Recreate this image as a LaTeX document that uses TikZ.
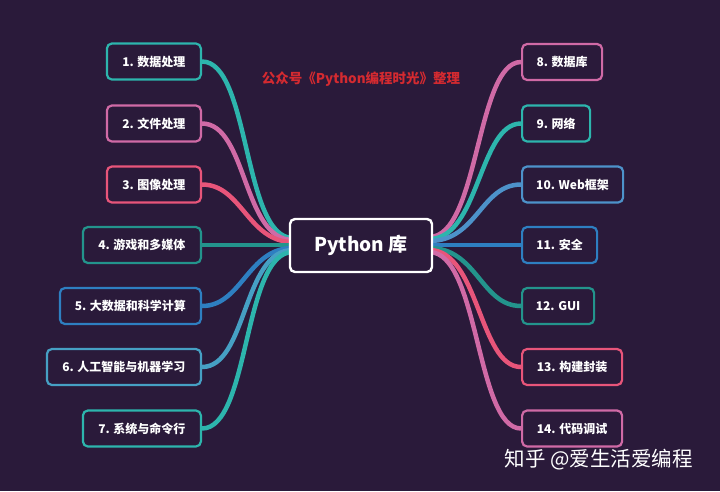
\documentclass[tikz,border=0pt]{standalone}
\usepackage{fontspec}
\setmainfont{Noto Sans CJK SC}
\usetikzlibrary{backgrounds,calc}
\definecolor{bg}{HTML}{2A1A3A}
\definecolor{cteal}{HTML}{2DB5AD}
\definecolor{cpink}{HTML}{D06AA6}
\definecolor{cred}{HTML}{E8557A}
\definecolor{cdteal}{HTML}{23948C}
\definecolor{cblue}{HTML}{2E7FC1}
\definecolor{clblue}{HTML}{46A0C4}
\definecolor{ctitle}{HTML}{D42A30}
\begin{document}
\begin{tikzpicture}[x=1pt,y=-1pt,
  box/.style={draw, line width=2.2pt, rounded corners=5pt, fill=bg, minimum height=36pt,
    inner sep=0pt, text=white, font=\bfseries\fontsize{12}{14}\selectfont},
  hub/.style={draw=white, line width=2.4pt, rounded corners=5pt, fill=bg, minimum width=142pt,
    minimum height=53pt, text=white, font=\bfseries\fontsize{19}{22}\selectfont},
  link/.style={line width=4.5pt, line cap=round}]
\useasboundingbox (0,0) rectangle (720,491);
% hub
\node[hub] (c) at (361,245.5) {Python 库};
% left boxes
\node[box, draw=cteal, minimum width=94pt, anchor=east] (n1) at (202,61.5) {1. 数据处理};
\node[box, draw=cpink, minimum width=94pt, anchor=east] (n2) at (202,123.5) {2. 文件处理};
\node[box, draw=cred, minimum width=94pt, anchor=east] (n3) at (202,184.5) {3. 图像处理};
\node[box, draw=cdteal, minimum width=118pt, anchor=east] (n4) at (202,245) {4. 游戏和多媒体};
\node[box, draw=cblue, minimum width=141pt, anchor=east] (n5) at (202,306) {5. 大数据和科学计算};
\node[box, draw=clblue, minimum width=154pt, anchor=east] (n6) at (202,367) {6. 人工智能与机器学习};
\node[box, draw=cteal, minimum width=118pt, anchor=east] (n7) at (202,428.5) {7. 系统与命令行};
% right boxes
\node[box, draw=cpink, minimum width=80pt, anchor=west] (n8) at (521,62) {8. 数据库};
\node[box, draw=cteal, minimum width=68pt, anchor=west] (n9) at (521,123.5) {9. 网络};
\node[box, draw=cblue!85!white, minimum width=101pt, anchor=west] (n10) at (521,184.5) {10. Web框架};
\node[box, draw=cblue, minimum width=75pt, anchor=west] (n11) at (521,245) {11. 安全};
\node[box, draw=cdteal, minimum width=72pt, anchor=west] (n12) at (521,306) {12. GUI};
\node[box, draw=cred, minimum width=100pt, anchor=west] (n13) at (521,367) {13. 构建封装};
\node[box, draw=cpink, minimum width=100pt, anchor=west] (n14) at (521,428.5) {14. 代码调试};
% texts
\node[text=ctitle, font=\bfseries\fontsize{13.5}{16}\selectfont] (title) at (361,79.5) {公众号《Python编程时光》整理};
\node[anchor=west, text=white, font=\fontsize{20.5}{24}\selectfont] (wm) at (501,460) {知乎 @爱生活爱编程};
% attach points on hub
\coordinate (L1) at ($(c.west)+(4,-7.5)$);
\coordinate (L2) at ($(c.west)+(4,-5.5)$);
\coordinate (L3) at ($(c.west)+(4,-3.5)$);
\coordinate (L4) at ($(c.west)+(4,-0.5)$);
\coordinate (L5) at ($(c.west)+(4,2.5)$);
\coordinate (L6) at ($(c.west)+(4,4.5)$);
\coordinate (L7) at ($(c.west)+(4,6.5)$);
\coordinate (R8) at ($(c.east)+(-4,-8.5)$);
\coordinate (R9) at ($(c.east)+(-4,-6.5)$);
\coordinate (R10) at ($(c.east)+(-4,-4.5)$);
\coordinate (R11) at ($(c.east)+(-4,-0.5)$);
\coordinate (R12) at ($(c.east)+(-4,2.5)$);
\coordinate (R13) at ($(c.east)+(-4,4.5)$);
\coordinate (R14) at ($(c.east)+(-4,6.5)$);
\begin{pgfonlayer}{background}
\fill[bg] (0,0) rectangle (720,491);
\draw[link, cteal] (n1.east) .. controls +(48,0) and +(-50,0) .. (L1);
\draw[link, cpink] (n2.east) .. controls +(45,0) and +(-50,0) .. (L2);
\draw[link, cred] (n3.east) .. controls +(40,0) and +(-45,0) .. (L3);
\draw[link, cdteal] (n4.east) .. controls +(40,0) and +(-40,0) .. (L4);
\draw[link, cblue] (n5.east) .. controls +(40,0) and +(-45,0) .. (L5);
\draw[link, clblue] (n6.east) .. controls +(45,0) and +(-50,0) .. (L6);
\draw[link, cteal] (n7.east) .. controls +(48,0) and +(-50,0) .. (L7);
\draw[link, cpink] (R8) .. controls +(50,0) and +(-45,0) .. (n8.west);
\draw[link, cteal] (R9) .. controls +(50,0) and +(-42,0) .. (n9.west);
\draw[link, cblue!85!white] (R10) .. controls +(48,0) and +(-40,0) .. (n10.west);
\draw[link, cblue] (R11) .. controls +(40,0) and +(-40,0) .. (n11.west);
\draw[link, cdteal] (R12) .. controls +(48,0) and +(-40,0) .. (n12.west);
\draw[link, cred] (R13) .. controls +(50,0) and +(-42,0) .. (n13.west);
\draw[link, cpink] (R14) .. controls +(50,0) and +(-45,0) .. (n14.west);
\end{pgfonlayer}
\end{tikzpicture}
\end{document}
